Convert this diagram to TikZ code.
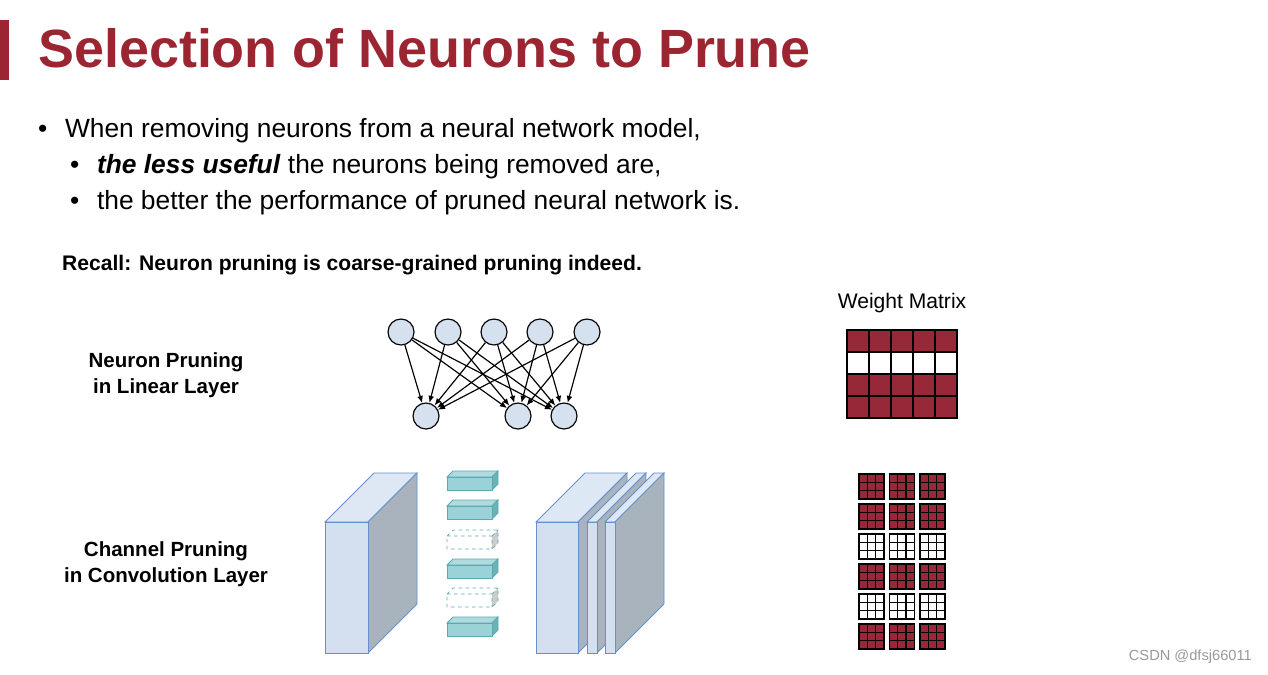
\documentclass[tikz,border=0pt]{standalone}
\usepackage{fontspec}
\setmainfont{Liberation Sans}
\begin{document}
\begin{tikzpicture}[x=0.03cm,y=-0.03cm,
 neu/.style={circle,draw,line width=1pt,fill=nfill,minimum size=26*0.03cm,inner sep=0},
 edge/.style={-{Latex[length=6pt,width=5pt]},line width=1pt},
 lbl/.style={font=\bfseries\fontsize{17.5}{22}\selectfont,align=center},
 cell/.style={draw=black,line width=1.4pt},
 sl/.style={draw=slab,line width=0.8pt}]
\usetikzlibrary{arrows.meta}
\definecolor{tred}{RGB}{155,38,50}
\definecolor{nfill}{RGB}{214,225,240}
\definecolor{slab}{RGB}{100,145,205}
\definecolor{sfront}{RGB}{212,224,240}
\definecolor{stop}{RGB}{222,231,244}
\definecolor{sside}{RGB}{168,179,190}
\definecolor{teal}{RGB}{155,210,215}
\definecolor{tealb}{RGB}{90,170,175}
\definecolor{wred}{RGB}{150,40,55}
\useasboundingbox (0,0) rectangle (1268,674);
\fill[tred] (0,20) rectangle (9,80);
\node[anchor=west,text=tred,font=\bfseries\fontsize{46}{50}\selectfont,inner sep=0] (title) at (38,48) {Selection of Neurons to Prune};
\node[anchor=west,font=\fontsize{22.5}{26}\selectfont,inner sep=0] (b1) at (38,131) {•\hspace{15pt}When removing neurons from a neural network model,};
\node[anchor=west,font=\fontsize{22.5}{26}\selectfont,inner sep=0] (b2) at (70,167) {•\hspace{15pt}\textbf{\textit{the less useful}} the neurons being removed are,};
\node[anchor=west,font=\fontsize{22.5}{26}\selectfont,inner sep=0] (b3) at (70,203) {•\hspace{15pt}the better the performance of pruned neural network is.};
\node[anchor=west,font=\bfseries\fontsize{18}{22}\selectfont,inner sep=0] (rec) at (62,265) {Recall: Neuron pruning is coarse-grained pruning indeed.};
\node[lbl] (l1) at (166,375) {Neuron Pruning\\in Linear Layer};
\node[lbl] (l2) at (166,564) {Channel Pruning\\in Convolution Layer};
\node[font=\fontsize{18}{22}\selectfont] (wm) at (902,303) {Weight Matrix};
\node[text=gray!80,font=\fontsize{12.5}{15}\selectfont,anchor=east,inner sep=0] (csdn) at (1252,657) {CSDN @dfsj66011};
% network
\foreach \i/\x in {1/401,2/448,3/494,4/540,5/587} \node[neu] (t\i) at (\x,332) {};
\foreach \i/\x in {1/426,2/518,3/564} \node[neu] (o\i) at (\x,416) {};
\foreach \i in {1,...,5} \foreach \j in {1,2,3} \draw[edge] (t\i) -- (o\j);
% weight matrix
\foreach \r in {0,...,3} \foreach \c in {0,...,4} {
  \ifnum\r=1 \def\cf{white}\else\def\cf{wred}\fi
  \draw[cell,fill=\cf] (847+22*\c,330+22*\r) rectangle ++(22,22);}
% conv weights
\foreach \r in {0,...,5} \foreach \c in {0,1,2} {
  \ifnum\r=2 \def\cf{white}\else\ifnum\r=4 \def\cf{white}\else\def\cf{wred}\fi\fi
  \foreach \a in {0,1,2} \foreach \b in {0,1,2}
   \draw[draw=black,line width=1.1pt,fill=\cf] (859+30.5*\c+8.3*\a,474+30*\r+8.3*\b) rectangle ++(8.3,8.3);}
\newcommand{\myslab}[5]{%
 \draw[sl,fill=stop] (#1,#3) -- ++(#5,-#5) -- ++(#2-#1,0) -- (#2,#3) -- cycle;
 \draw[sl,fill=sside] (#2,#3) -- ++(#5,-#5) -- ++(0,#4-#3) -- (#2,#4) -- cycle;
 \draw[sl,fill=sfront] (#1,#3) rectangle (#2,#4);}
\myslab{325}{368}{522}{653}{49}
\myslab{536}{578}{522}{653}{49}
\myslab{587}{597}{522}{653}{49}
\myslab{605}{615}{522}{653}{49}
\newcommand{\myfilter}[1]{%
 \draw[draw=tealb,line width=0.7pt,fill=teal!80] (447,#1) -- ++(6,-6) -- ++(45,0) -- (492,#1) -- cycle;
 \draw[draw=tealb,line width=0.7pt,fill=tealb!90] (492,#1) -- ++(6,-6) -- ++(0,13) -- (492,#1+13) -- cycle;
 \draw[draw=tealb,line width=0.7pt,fill=teal] (447,#1) rectangle (492,#1+13);}
\newcommand{\mydashfilter}[1]{%
 \fill[gray!40] (492,#1) -- ++(6,-6) -- ++(0,13) -- (492,#1+13) -- cycle;
 \draw[draw=tealb,dashed,line width=0.6pt] (447,#1) -- ++(6,-6) -- ++(45,0) -- ++(0,13) -- (492,#1+13) -- (447,#1+13) -- cycle (492,#1) -- ++(6,-6) (447,#1) -- (492,#1) -- (492,#1+13);}
\myfilter{477}
\myfilter{506}
\mydashfilter{536}
\myfilter{565}
\mydashfilter{594}
\myfilter{623}
\end{tikzpicture}
\end{document}
